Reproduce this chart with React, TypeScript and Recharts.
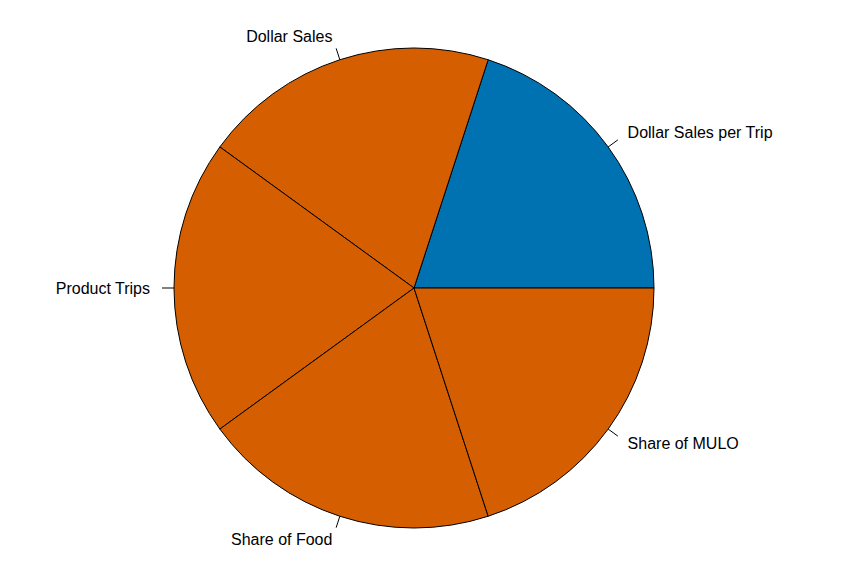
import React from "react";
import { PieChart, Pie, Cell } from "recharts";

const categories = ["Dollar Sales per Trip", "Dollar Sales", "Product Trips", "Share of Food", "Share of MULO"];
const values = [1, 1, 1, 1, 1];
const colors = ["#0072B2", "#D55E00", "#D55E00", "#D55E00", "#D55E00"];

const data = categories.map((name, i) => ({ name, value: values[i] }));
const RAD = Math.PI / 180;

const renderLabel = (props: any) => {
  const { cx, cy, midAngle, outerRadius, index } = props;
  const c = Math.cos(-midAngle * RAD);
  const s = Math.sin(-midAngle * RAD);
  const x1 = cx + outerRadius * c;
  const y1 = cy + outerRadius * s;
  const x2 = cx + outerRadius * 1.05 * c;
  const y2 = cy + outerRadius * 1.05 * s;
  const tx = cx + outerRadius * 1.1 * c;
  const ty = cy + outerRadius * 1.1 * s;
  return (
    <g key={`lbl-${index}`}>
      <line x1={x1} y1={y1} x2={x2} y2={y2} stroke="#000" strokeWidth={1} />
      <text
        x={tx}
        y={ty}
        textAnchor={c >= 0 ? "start" : "end"}
        dominantBaseline="central"
        fontFamily="Liberation Sans, Arial, sans-serif"
        fontSize={16}
        fill="#000"
      >
        {categories[index]}
      </text>
    </g>
  );
};

export default function App() {
  return (
    <div style={{ position: "absolute", left: 0, top: 0, width: 864, height: 584, background: "#fff" }}>
      <PieChart width={864} height={584} margin={{ top: 0, right: 0, bottom: 0, left: 0 }}>
        <Pie
          data={data}
          dataKey="value"
          nameKey="name"
          cx={414}
          cy={288}
          outerRadius={240}
          startAngle={0}
          endAngle={360}
          stroke="#000"
          strokeWidth={1}
          label={renderLabel}
          labelLine={false}
          isAnimationActive={false}
        >
          {data.map((d, i) => (
            <Cell key={d.name} fill={colors[i]} />
          ))}
        </Pie>
      </PieChart>
    </div>
  );
}
